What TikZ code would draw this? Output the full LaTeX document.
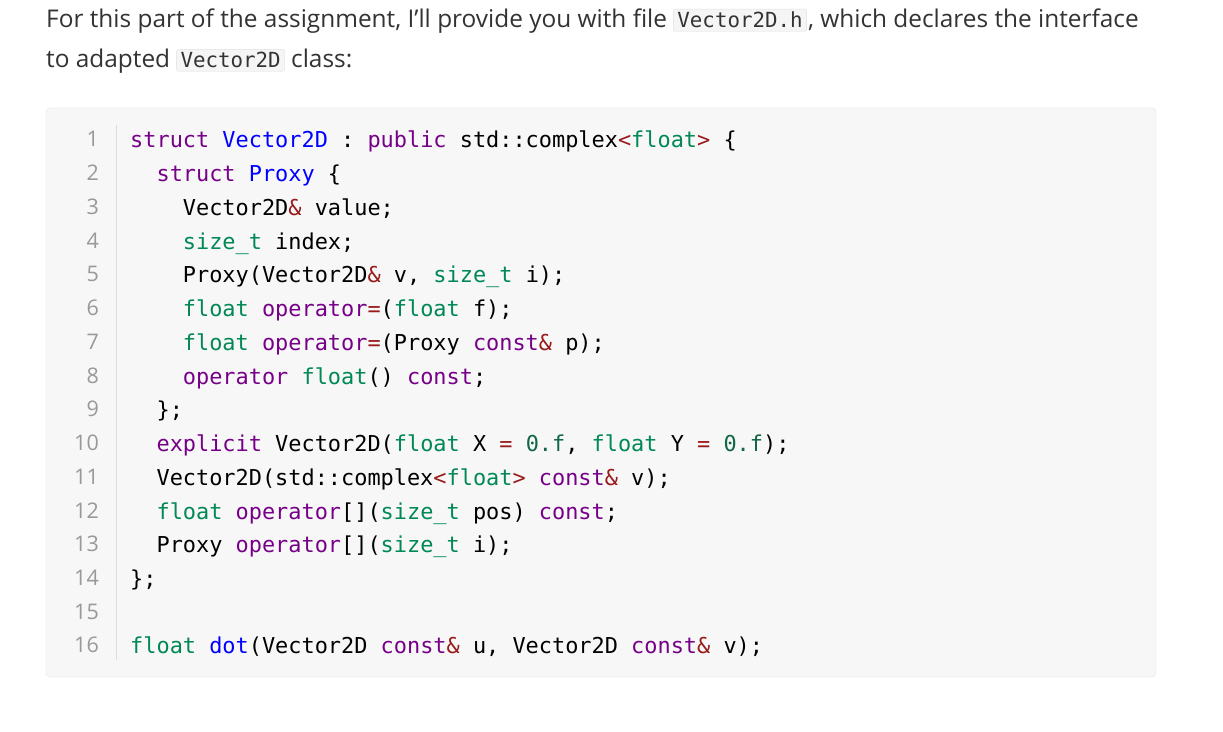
\documentclass[tikz,border=0pt]{standalone}
\usepackage{fontspec}
\setmainfont{Open Sans}
\setmonofont{DejaVu Sans Mono}
\definecolor{kw}{HTML}{770088}
\definecolor{ty}{HTML}{008855}
\definecolor{nm}{HTML}{0000FF}
\definecolor{op}{HTML}{981A1A}
\definecolor{nu}{HTML}{116644}
\definecolor{txt}{HTML}{333333}
\definecolor{lnum}{HTML}{999999}
\newcommand{\kw}[1]{\textcolor{kw}{#1}}
\newcommand{\ty}[1]{\textcolor{ty}{#1}}
\newcommand{\nm}[1]{\textcolor{nm}{#1}}
\newcommand{\opc}[1]{\textcolor{op}{#1}}
\newcommand{\nuc}[1]{\textcolor{nu}{#1}}
\newcommand{\ind}[1]{\hspace*{#1\fontcharwd\font`0}}
\begin{document}
\begin{tikzpicture}[x=1bp,y=-1bp,
  prose/.style={anchor=base west,inner sep=0pt,font=\fontsize{24.4bp}{28bp}\selectfont,text=txt},
  chip/.style={anchor=base west,inner xsep=4bp,inner ysep=3bp,fill=black!4,draw=black!12,rounded corners=2bp,font=\fontsize{20.8bp}{24bp}\ttfamily,text=txt},
  code/.style={anchor=base west,inner sep=0pt,font=\fontsize{21.9bp}{26bp}\ttfamily,text=black},
  num/.style={anchor=base east,inner sep=0pt,font=\fontsize{21.5bp}{24bp}\selectfont,text=lnum}]
\fill[white] (0,0) rectangle (1223,732);
\useasboundingbox (0,0) rectangle (1223,732);
% prose
\node[prose] (p1) at (46,28) {For this part of the assignment, I'll provide you with file};
\node[chip] (c1) at ([xshift=6bp]p1.base east) {Vector2D.h};
\node[prose] (p2) at ([xshift=1bp]c1.base east) {, which declares the interface};
\node[prose] (p3) at (46,68) {to adapted};
\node[chip] (c2) at ([xshift=6bp]p3.base east) {Vector2D};
\node[prose] (p4) at ([xshift=6bp]c2.base east) {class:};
% code block
\draw[draw=black!10,fill=black!3,rounded corners=4bp] (46,108) rectangle (1156,677);
\draw[black!13,line width=1bp] (116,125) -- (116,660);
\foreach \i in {1,...,16}{
  \node[num] (n\i) at (99,{147+33.73*(\i-1)}) {\i};
}
\def\Y#1{{148+33.73*(#1-1)}}
\node[code] (l1) at (130,\Y{1}) {\kw{struct} \nm{Vector2D} : \kw{public} std::complex\opc{<}\ty{float}\opc{>} \{};
\node[code] (l2) at (130,\Y{2}) {\ind{2}\kw{struct} \nm{Proxy} \{};
\node[code] (l3) at (130,\Y{3}) {\ind{4}Vector2D\opc{\&} value;};
\node[code] (l4) at (130,\Y{4}) {\ind{4}\ty{size\_t} index;};
\node[code] (l5) at (130,\Y{5}) {\ind{4}Proxy(Vector2D\opc{\&} v, \ty{size\_t} i);};
\node[code] (l6) at (130,\Y{6}) {\ind{4}\ty{float} \kw{operator}\opc{=}(\ty{float} f);};
\node[code] (l7) at (130,\Y{7}) {\ind{4}\ty{float} \kw{operator}\opc{=}(Proxy \kw{const}\opc{\&} p);};
\node[code] (l8) at (130,\Y{8}) {\ind{4}\kw{operator} \ty{float}() \kw{const};};
\node[code] (l9) at (130,\Y{9}) {\ind{2}\};};
\node[code] (l10) at (130,\Y{10}) {\ind{2}\kw{explicit} Vector2D(\ty{float} X \opc{=} \nuc{0.f}, \ty{float} Y \opc{=} \nuc{0.f});};
\node[code] (l11) at (130,\Y{11}) {\ind{2}Vector2D(std::complex\opc{<}\ty{float}\opc{>} \kw{const}\opc{\&} v);};
\node[code] (l12) at (130,\Y{12}) {\ind{2}\ty{float} \kw{operator}[](\ty{size\_t} pos) \kw{const};};
\node[code] (l13) at (130,\Y{13}) {\ind{2}Proxy \kw{operator}[](\ty{size\_t} i);};
\node[code] (l14) at (130,\Y{14}) {\};};
\node[code] (l16) at (130,\Y{16}) {\ty{float} \nm{dot}(Vector2D \kw{const}\opc{\&} u, Vector2D \kw{const}\opc{\&} v);};
\end{tikzpicture}
\end{document}
